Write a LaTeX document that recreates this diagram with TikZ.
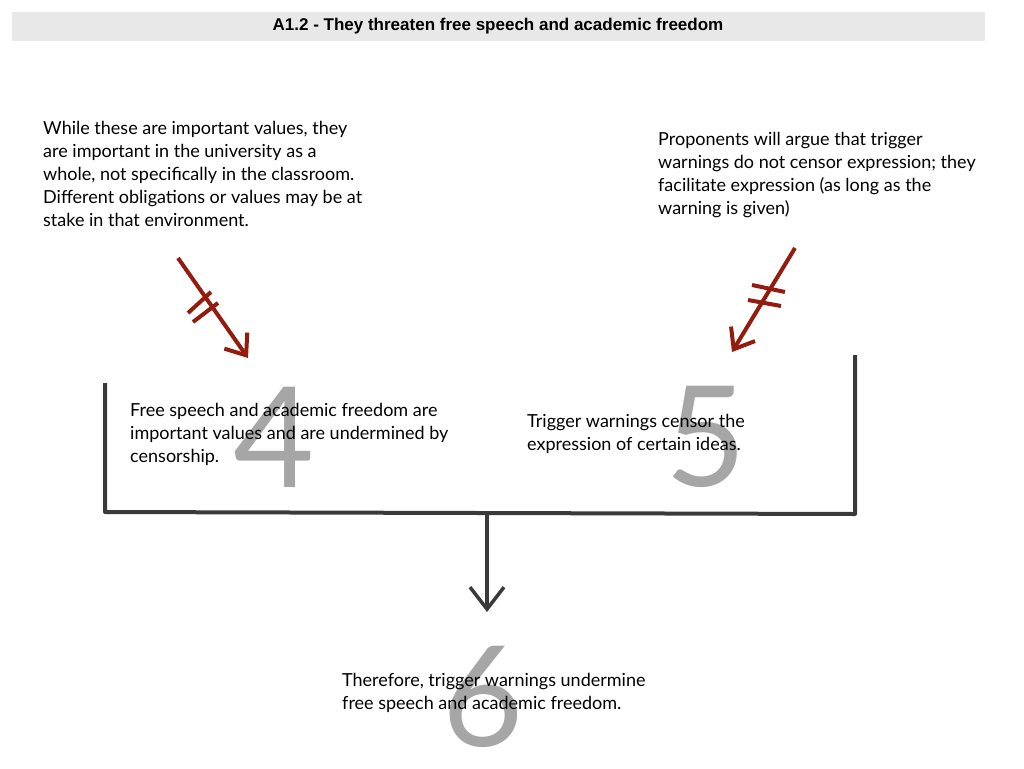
\documentclass[tikz,border=0pt]{standalone}
\usepackage{fontspec}
\setmainfont{Lato}
\newfontfamily\titlefont{Liberation Sans}
\usetikzlibrary{arrows.meta}
\definecolor{redarr}{HTML}{941C0F}
\definecolor{dark}{HTML}{3A3A3A}
\tikzset{
  txt/.style={anchor=north west,align=left,inner sep=0pt,font=\fontsize{18}{23}\selectfont},
  num/.style={anchor=center,inner sep=0pt,text=black!35,font=\fontsize{140}{140}\selectfont},
  red/.style={draw=redarr,line width=4pt,-{Straight Barb[length=18pt,width=28pt,line width=4pt]}},
  hatch/.style={draw=redarr,line width=4pt},
  bracket/.style={draw=dark,line width=4pt},
}
\begin{document}
\begin{tikzpicture}[x=1pt,y=-1pt]
\useasboundingbox (0,0) rectangle (1024,768);
\fill[black!9] (12,12) rectangle (985,41);
\node (title) at (498,26.5) {\titlefont\fontsize{17}{20}\selectfont\bfseries A1.2 - They threaten free speech and academic freedom};

\node[num] (n4) at (274,437) {4};
\node[num] (n5) at (706,437) {5};
\node[num] (n6) at (483,697) {6};

\node[txt] (t1) at (43,121) {While these are important values, they\\are important in the university as a\\whole, not specifically in the classroom.\\Different obligations or values may be at\\stake in that environment.};
\node[txt] (t2) at (658,132) {Proponents will argue that trigger\\warnings do not censor expression; they\\facilitate expression (as long as the\\warning is given)};
\node[txt] (t4) at (130,403) {Free speech and academic freedom are\\important values and are undermined by\\censorship.};
\node[txt] (t5) at (527,414) {Trigger warnings censor the\\expression of certain ideas.};
\node[txt] (t6) at (342,673) {Therefore, trigger warnings undermine\\free speech and academic freedom.};

\coordinate (a1s) at (178,258); \coordinate (a1e) at (248,358);
\coordinate (a2s) at (795,248); \coordinate (a2e) at (732,352);
\path[red] (a1s) -- (a1e);
\path[red] (a2s) -- (a2e);
\draw[hatch] (188,313) -- (211,292);
\draw[hatch] (193,322) -- (218,303);
\draw[hatch] (752,285) -- (785,292);
\draw[hatch] (748,300) -- (781,306);

\coordinate (bl) at (105,383); \coordinate (blc) at (105,512);
\coordinate (brc) at (855,514); \coordinate (br) at (855,355);
\coordinate (stem) at (487,513); \coordinate (tip) at (487,612);
\draw[bracket,line join=round] (bl) -- (blc) -- (brc) -- (br);
\draw[bracket,-{Straight Barb[length=22pt,width=34pt,line width=3.5pt]}] (stem) -- (tip);
\end{tikzpicture}
\end{document}
